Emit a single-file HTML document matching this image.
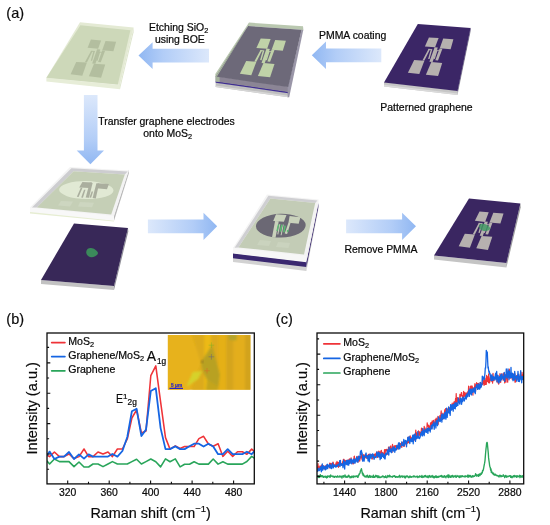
<!DOCTYPE html><html><head><meta charset="utf-8"><title>Figure</title><style>html,body{margin:0;padding:0;background:#fff}svg{display:block}</style></head><body>
<svg width="550" height="525" viewBox="0 0 550 525" font-family="Liberation Sans, sans-serif">
<defs>
<linearGradient id="gL" x1="0" y1="0" x2="1" y2="0"><stop offset="0" stop-color="#90b7f2"/><stop offset="0.35" stop-color="#b2cdf7"/><stop offset="1" stop-color="#dce8fb"/></linearGradient>
<linearGradient id="gR" x1="1" y1="0" x2="0" y2="0"><stop offset="0" stop-color="#90b7f2"/><stop offset="0.35" stop-color="#b2cdf7"/><stop offset="1" stop-color="#dce8fb"/></linearGradient>
<linearGradient id="gD" x1="0" y1="1" x2="0" y2="0"><stop offset="0" stop-color="#90b7f2"/><stop offset="0.35" stop-color="#b2cdf7"/><stop offset="1" stop-color="#dce8fb"/></linearGradient>
<filter id="b1" x="-20%" y="-20%" width="140%" height="140%"><feGaussianBlur stdDeviation="1.2"/></filter>
<filter id="b2" x="-20%" y="-20%" width="140%" height="140%"><feGaussianBlur stdDeviation="2.5"/></filter>
<clipPath id="cb"><rect x="47" y="333" width="207.3" height="151"/></clipPath>
<clipPath id="cc"><rect x="317" y="333" width="206.7" height="151"/></clipPath>
<clipPath id="ci"><rect x="167.8" y="334.9" width="82.7" height="54.9"/></clipPath>
</defs>
<rect width="550" height="525" fill="#ffffff"/>
<polygon points="138.5,55.6 152.6,42.2 152.6,48.8 209.0,48.8 209.0,62.4 152.6,62.4 152.6,69.0" fill="url(#gL)" />
<polygon points="311.8,55.3 326.0,41.6 326.0,48.4 381.3,48.4 381.3,62.2 326.0,62.2 326.0,69.0" fill="url(#gL)" />
<polygon points="90.4,164.3 76.7,150.5 83.9,150.5 83.9,95.0 97.5,95.0 97.5,150.5 104.0,150.5" fill="url(#gD)" />
<polygon points="217.2,226.3 203.5,212.7 203.5,219.4 147.9,219.4 147.9,233.2 203.5,233.2 203.5,240.0" fill="url(#gR)" />
<polygon points="416.0,226.3 402.1,212.7 402.1,219.4 346.1,219.4 346.1,233.2 402.1,233.2 402.1,240.0" fill="url(#gR)" />
<polygon points="46.4,77.7 120.0,85.0 120.0,89.2 46.4,81.4" fill="#e7edd8" />
<polygon points="133.6,27.4 133.6,32.3 120.0,89.2 120.0,85.0" fill="#dfe6cf" />
<polygon points="80.0,22.3 133.6,27.4 120.0,85.0 46.4,77.7" fill="#e4ead4" />
<polygon points="80.4,25.2 130.4,30.3 117.8,84.6 46.4,77.7" fill="#cdd8b9" />
<polygon points="90.9,39.6 101.1,40.4 98.1,48.8 87.6,47.8" fill="#b3be9f" />
<polygon points="105.5,41.0 116.1,41.7 113.4,51.3 102.2,50.3" fill="#b3be9f" />
<polygon points="76.2,62.0 86.9,62.5 82.3,75.8 70.6,74.3" fill="#b3be9f" />
<polygon points="94.0,63.8 105.2,64.6 101.1,77.8 88.9,76.3" fill="#b3be9f" />
<polygon points="97.1,49.3 100.3,49.6 95.4,63.8 92.2,63.6" fill="#b3be9f" />
<polygon points="102.2,50.5 105.1,50.8 100.8,62.3 98.1,62.1" fill="#b3be9f" />
<polygon points="91.0,51.0 92.6,51.1 87.0,62.3 85.0,62.1" fill="#b3be9f" />
<polygon points="93.3,51.5 94.8,51.6 92.1,60.8 90.8,60.7" fill="#b3be9f" />
<polygon points="91.0,50.7 94.8,51.1 94.8,52.0 90.8,51.6" fill="#b3be9f" />
<polygon points="98.7,52.0 100.2,52.1 97.5,60.8 96.2,60.7" fill="#b3be9f" />
<polygon points="98.7,51.6 102.4,51.9 102.2,52.7 98.5,52.4" fill="#b3be9f" />
<polygon points="215.6,82.2 288.2,92.7 288.2,97.3 215.6,87.0" fill="#bfbfbf" />
<polygon points="215.6,85.4 288.2,95.7 288.2,97.3 215.6,87.0" fill="#d6d6d6" />
<polygon points="215.6,81.0 288.2,91.5 288.2,93.2 215.6,82.7" fill="#3f2e92" />
<polygon points="215.6,76.0 288.2,86.5 288.2,91.9 215.6,81.4" fill="#8b8595" />
<polygon points="215.6,76.6 219.6,77.2 219.6,82.0 215.6,81.4" fill="#a3b19c" />
<polygon points="303.0,26.3 303.2,30.3 289.2,97.3 287.7,97.3 287.7,87.1 301.6,29.7" fill="#9a96a8" />
<polygon points="303.0,26.3 303.2,29.9 301.6,30.2 301.6,29.7" fill="#b4c2aa" />
<polygon points="249.0,22.6 303.0,26.3 302.6,30.1 301.6,29.7 248.0,26.0 216.9,76.8 215.3,76.6 215.3,74.1" fill="#bac8b0" />
<polygon points="248.0,26.0 301.6,29.7 288.2,87.1 215.6,76.6" fill="#6d6979" />
<polygon points="249.0,22.6 248.6,25.2 215.3,76.9 216.8,76.8 248.0,26.0" fill="#a9b7a0" />
<polygon points="260.7,38.6 270.6,39.1 267.1,48.8 256.4,48.0" fill="#c0d2a8" />
<polygon points="275.2,39.9 285.9,40.7 282.8,50.8 271.6,49.8" fill="#c0d2a8" />
<polygon points="246.2,61.0 256.4,61.7 251.3,75.3 239.9,73.8" fill="#c0d2a8" />
<polygon points="263.5,63.1 274.5,64.1 270.1,77.3 257.9,76.0" fill="#c0d2a8" />
<polygon points="266.5,48.6 269.8,48.9 264.7,63.3 261.5,63.1" fill="#c0d2a8" />
<polygon points="271.6,49.8 274.5,50.1 270.1,61.7 267.4,61.5" fill="#c0d2a8" />
<polygon points="260.4,50.3 262.1,50.4 256.4,61.7 254.3,61.5" fill="#c0d2a8" />
<polygon points="262.8,50.8 264.2,50.9 261.5,60.2 260.1,60.1" fill="#c0d2a8" />
<polygon points="260.4,50.0 264.3,50.4 264.2,51.3 260.2,50.9" fill="#c0d2a8" />
<polygon points="268.2,51.3 269.6,51.5 266.9,60.2 265.5,60.1" fill="#c0d2a8" />
<polygon points="268.2,50.9 271.8,51.2 271.6,52.1 268.0,51.8" fill="#c0d2a8" />
<polygon points="384.0,82.0 457.5,90.4 457.5,95.1 384.0,86.4" fill="#c6c6c6" />
<polygon points="384.0,84.8 457.5,93.4 457.5,95.1 384.0,86.4" fill="#dadada" />
<polygon points="470.5,27.5 457.5,90.4 457.5,95.1 470.5,32.1" fill="#9c9ca2" />
<polygon points="470.5,27.5 457.5,90.4 457.5,92.2 470.5,29.7" fill="#5a4a86" />
<polygon points="417.8,24.1 470.5,28.1 457.5,91.0 384.0,82.6" fill="#3b2666" />
<polygon points="428.9,37.6 438.6,38.1 435.1,47.3 424.9,46.5" fill="#b6b1af" />
<polygon points="443.2,38.6 453.4,39.3 450.6,49.3 439.8,48.3" fill="#b6b1af" />
<polygon points="414.2,60.0 424.4,60.7 419.3,74.0 407.9,72.7" fill="#b6b1af" />
<polygon points="431.3,62.0 442.2,62.9 438.1,76.0 425.9,74.8" fill="#b6b1af" />
<polygon points="434.6,47.3 437.8,47.6 432.6,62.0 429.4,61.8" fill="#b6b1af" />
<polygon points="439.6,48.5 442.4,48.8 438.0,60.4 435.3,60.3" fill="#b6b1af" />
<polygon points="428.5,49.1 430.1,49.2 424.4,60.5 422.4,60.4" fill="#b6b1af" />
<polygon points="430.8,49.6 432.2,49.7 429.5,59.0 428.1,58.9" fill="#b6b1af" />
<polygon points="428.5,48.8 432.3,49.2 432.2,50.1 428.3,49.7" fill="#b6b1af" />
<polygon points="436.2,50.1 437.6,50.2 434.8,58.9 433.5,58.8" fill="#b6b1af" />
<polygon points="436.2,49.7 439.8,49.9 439.6,50.8 435.9,50.5" fill="#b6b1af" />
<polygon points="30.0,211.0 114.0,219.8 114.0,221.6 30.0,213.4" fill="#e6edd2" />
<polygon points="30.0,207.0 114.0,215.4 114.0,220.7 30.0,212.1" fill="#f8f8f8" />
<polygon points="128.8,169.8 114.0,215.4 114.0,220.7 128.8,173.8" fill="#b9b9b9" />
<polygon points="70.0,167.0 128.8,170.4 114.0,216.0 30.0,207.6" fill="#f3f3f3" />
<polygon points="71.4,168.2 127.6,171.6 124.8,174.4 73.6,171.2 36.8,207.4 32.0,207.6" fill="#cdcdd0" />
<polygon points="73.6,171.2 124.8,174.4 111.2,214.4 36.8,207.4" fill="#c5cfb6" />
<ellipse cx="86.3" cy="190.1" rx="27.2" ry="9" fill="#e1e9d4" transform="rotate(1 86.3 190.1)"/>
<polygon points="82.4,182.0 92.1,182.6 89.5,188.1 79.2,187.4" fill="#aaae9e" />
<polygon points="97.8,183.2 108.9,184.1 107.0,189.3 96.1,188.3" fill="#aaae9e" />
<polygon points="89.8,182.6 92.6,182.9 89.0,197.8 85.7,197.4" fill="#aaae9e" />
<polygon points="96.4,183.3 99.1,183.6 95.8,198.5 92.6,198.1" fill="#aaae9e" />
<polygon points="80.8,187.7 82.4,188.0 78.6,197.1 76.9,196.8" fill="#aaae9e" />
<polygon points="84.0,189.7 85.5,189.8 82.9,197.7 81.2,197.4" fill="#aaae9e" />
<polygon points="91.6,191.5 93.1,191.6 91.1,197.7 89.5,197.5" fill="#aaae9e" />
<polygon points="61.0,201.0 73.0,201.6 70.0,206.4 58.0,205.6" fill="#cdd6c0" />
<polygon points="80.0,202.0 94.0,202.8 92.0,207.2 78.0,206.4" fill="#cdd6c0" />
<polygon points="41.0,280.0 114.0,286.0 114.0,290.0 41.0,284.0" fill="#c2c2c2" />
<polygon points="128.0,228.0 128.3,231.5 114.0,290.0 114.0,286.0" fill="#8d8d95" />
<polygon points="74.0,223.4 128.0,228.0 114.0,286.0 41.0,280.0" fill="#382858" />
<path d="M86.2 252 C86.2 249.5 88.5 247.8 91 248 C94 248.3 97.2 250.5 98 253 C97.5 255.5 94.5 257.2 91.5 257.2 C88.5 257.2 86.2 255 86.2 252Z" fill="#3b8a5b"/>
<polygon points="233.0,257.0 306.4,266.0 306.4,271.0 233.0,262.0" fill="#d2d2d2" />
<polygon points="233.0,253.0 306.4,261.6 306.4,267.0 233.0,258.2" fill="#3a2870" />
<polygon points="233.0,247.3 306.4,255.3 306.4,262.2 233.0,253.6" fill="#f7f7f7" />
<polygon points="318.4,205.4 306.4,265.0 306.4,271.0 318.4,208.9" fill="#c9c9c9" />
<polygon points="318.4,203.0 306.4,261.6 306.4,267.0 318.4,206.9" fill="#3a2870" />
<polygon points="318.4,198.7 306.4,255.3 306.4,262.2 318.4,203.6" fill="#f0f0f0" />
<polygon points="267.0,194.6 318.4,199.4 306.4,256.0 233.0,248.0" fill="#f3f3f3" />
<polygon points="268.4,195.8 317.4,200.4 315.2,203.0 270.4,198.6 238.4,247.4 234.6,247.8" fill="#cfcfd2" />
<polygon points="270.4,198.6 315.2,203.0 304.0,254.6 238.4,247.4" fill="#c3ccb6" />
<ellipse cx="280.8" cy="225.7" rx="24.9" ry="11.9" fill="#6b6874" transform="rotate(-1.5 280.8 225.7)"/>
<polygon points="276.0,214.2 286.5,215.0 283.9,221.7 273.2,220.9" fill="#c9d2bb" />
<polygon points="289.6,216.0 300.4,217.3 298.7,223.7 288.5,222.7" fill="#c9d2bb" />
<polygon points="275.1,220.9 278.8,221.3 275.5,237.7 272.0,237.2" fill="#c9d2bb" />
<polygon points="288.5,222.5 290.6,222.8 287.1,234.0 284.7,233.6" fill="#c9d2bb" />
<polygon points="279.3,224.1 280.3,224.3 278.3,234.4 277.3,234.3" fill="#c9d2bb" />
<polygon points="282.8,224.4 283.7,224.5 281.6,235.3 280.6,235.2" fill="#c9d2bb" />
<polygon points="277.9,224.4 279.3,224.4 277.7,231.1 276.3,231.0" fill="#5cba72" />
<polygon points="281.1,224.6 282.7,224.7 281.0,231.8 279.5,231.7" fill="#5cba72" />
<polygon points="284.3,225.5 285.9,225.7 284.5,232.4 283.0,232.2" fill="#5cba72" />
<polygon points="287.1,229.8 288.9,230.5 288.0,232.2 286.7,231.6" fill="#5cba72" />
<polygon points="260.0,240.0 271.0,241.0 269.0,246.0 257.0,245.0" fill="#cad3be" />
<polygon points="278.0,242.0 290.0,243.0 288.4,248.0 276.0,247.0" fill="#cad3be" />
<polygon points="434.0,255.4 506.4,263.0 506.4,267.4 434.0,259.4" fill="#c4c4c4" />
<polygon points="520.4,203.4 520.7,207.4 506.4,267.4 506.4,263.0" fill="#9a9a9a" />
<polygon points="469.0,198.6 520.4,203.4 506.4,263.0 434.0,255.4" fill="#3a2661" />
<polygon points="479.5,211.4 488.7,212.2 485.1,221.9 474.9,220.8" fill="#b6b1af" />
<polygon points="493.3,212.7 503.5,213.4 500.4,223.6 489.5,222.4" fill="#b6b1af" />
<polygon points="464.8,233.8 474.9,234.6 469.9,247.8 458.7,246.3" fill="#b6b1af" />
<polygon points="481.6,236.1 492.3,236.8 487.9,249.9 476.3,248.3" fill="#b6b1af" />
<polygon points="484.8,221.4 487.9,221.7 482.8,235.9 479.7,235.8" fill="#b6b1af" />
<polygon points="489.6,222.6 492.4,222.9 488.1,234.4 485.4,234.2" fill="#b6b1af" />
<polygon points="478.8,223.1 480.4,223.2 474.8,234.4 472.8,234.2" fill="#b6b1af" />
<polygon points="481.1,223.6 482.5,223.7 479.7,232.9 478.4,232.8" fill="#b6b1af" />
<polygon points="478.8,222.8 482.6,223.2 482.5,224.1 478.6,223.7" fill="#b6b1af" />
<polygon points="486.3,224.1 487.7,224.2 484.9,232.9 483.6,232.8" fill="#b6b1af" />
<polygon points="486.3,223.7 489.8,224.0 489.6,224.8 486.1,224.5" fill="#b6b1af" />
<path d="M479.0 225.9 C480.0 222.4 487.7 223.4 490.7 228.7 C486.7 232.5 479.5 231.5 479.0 225.9 Z" fill="#3f9a63" opacity="0.82"/>
<text x="6.3" y="18.3" font-size="14.50" text-anchor="start" fill="#0a0a0a" stroke="#0a0a0a" stroke-width="0.18" >(a)</text>
<text x="149.0" y="30.7" font-size="10.45" text-anchor="start" fill="#0a0a0a" stroke="#0a0a0a" stroke-width="0.22" >Etching SiO<tspan font-size="7.3" dy="2.2">2</tspan></text>
<text x="154.9" y="43.2" font-size="10.45" text-anchor="start" fill="#0a0a0a" stroke="#0a0a0a" stroke-width="0.22" >using BOE</text>
<text x="319.0" y="38.7" font-size="10.45" text-anchor="start" fill="#0a0a0a" stroke="#0a0a0a" stroke-width="0.22" >PMMA coating</text>
<text x="380.3" y="111.4" font-size="10.45" text-anchor="start" fill="#0a0a0a" stroke="#0a0a0a" stroke-width="0.22" >Patterned graphene</text>
<text x="98.2" y="125.1" font-size="10.45" text-anchor="start" fill="#0a0a0a" stroke="#0a0a0a" stroke-width="0.22" >Transfer graphene electrodes</text>
<text x="143.3" y="136.8" font-size="10.45" text-anchor="start" fill="#0a0a0a" stroke="#0a0a0a" stroke-width="0.22" >onto MoS<tspan font-size="7.3" dy="2.2">2</tspan></text>
<text x="344.4" y="252.8" font-size="10.45" text-anchor="start" fill="#0a0a0a" stroke="#0a0a0a" stroke-width="0.22" >Remove PMMA</text>
<text x="6.3" y="323.5" font-size="14.50" text-anchor="start" fill="#0a0a0a" stroke="#0a0a0a" stroke-width="0.18" >(b)</text>
<text x="275.8" y="323.5" font-size="14.50" text-anchor="start" fill="#0a0a0a" stroke="#0a0a0a" stroke-width="0.18" >(c)</text><g clip-path="url(#ci)">
<rect x="167.8" y="334.9" width="82.7" height="54.9" fill="#e2ad1a"/>
<g filter="url(#b1)">
<polygon points="166.0,333.0 191.0,333.0 201.2,362.7 189.5,391.2 166.0,391.2" fill="#e7b21b"/>
<polygon points="191.8,333.0 205.1,333.0 205.1,391.2 191.0,391.2 201.2,364.3" fill="#dcaa1c"/>
<polygon points="204.3,333.0 211.0,333.0 211.0,391.2 204.3,391.2" fill="#ecba19"/>
<polygon points="211.3,333.0 218.4,333.0 218.4,391.2 211.3,391.2" fill="#ddaa1b"/>
<polygon points="218.4,333.0 226.2,333.0 226.2,391.2 218.4,391.2" fill="#e5b019"/>
<polygon points="226.2,333.0 233.6,333.0 233.6,391.2 226.2,391.2" fill="#d5a51e"/>
<polygon points="233.6,333.0 245.0,333.0 245.0,391.2 233.6,391.2" fill="#e3ae1a"/>
<polygon points="245.0,333.0 252.0,333.0 252.0,391.2 245.0,391.2" fill="#d2a31f"/>
<polygon points="227.8,334.6 237.1,334.6 236.4,340.5 229.3,340.0" fill="#b5a42a"/>
<polygon points="212.1,344.7 219.9,374.4 218.4,386.9 207.0,379.9 203.2,372.1 200.7,362.7" fill="#b8a122"/>
<polygon points="207.0,379.9 218.4,386.9 217.6,391.2 205.9,391.2" fill="#c4a51d"/>
<polygon points="202.3,371.0 192.9,372.1 186.3,386.9 198.1,379.1" fill="#d6d22a"/>
</g>
<circle cx="202.3" cy="361.6" r="1.2" fill="#80601c" filter="url(#b1)" opacity="0.8"/>
<path d="M208.6 345.2h5.6M211.4 342.4v5.6" stroke="#62b02a" stroke-width="0.5" opacity="0.75"/>
<path d="M208.6 356.8h5.6M211.4 354.0v5.6" stroke="#4f4a9c" stroke-width="0.5" opacity="0.75"/>
<path d="M204.2 370.8h5.6M207.0 368.0v5.6" stroke="#e4522a" stroke-width="0.5" opacity="0.75"/>
<path d="M169.4 388.4h13.6" stroke="#2a22c8" stroke-width="1.1"/>
<text x="176.6" y="386.9" font-size="4.8" font-weight="bold" text-anchor="middle" fill="#2a22c8" stroke="#2a22c8" stroke-width="0.15">5 μm</text>
</g>
<polyline points="47.0,461.0 49.6,464.0 54.4,459.0 59.4,461.6 64.0,461.6 69.0,461.6 74.0,466.6 79.0,462.0 84.0,467.0 88.6,467.0 93.0,464.0 98.0,464.0 103.0,466.6 108.0,464.0 112.4,461.6 117.4,464.0 122.4,464.0 127.3,464.0 131.9,461.6 136.6,459.2 141.4,464.0 146.0,461.6 150.8,459.0 155.8,461.7 160.6,466.9 165.5,458.9 170.0,461.7 175.3,458.9 180.1,466.9 184.6,464.2 189.5,464.2 194.1,461.7 198.9,464.1 203.6,464.1 208.4,464.1 213.2,459.0 218.1,464.1 222.9,461.7 227.7,464.1 232.7,464.1 237.5,464.1 242.3,464.1 246.9,461.5 251.7,456.4 254.3,458.1" fill="none" stroke="#29a55a" stroke-width="1.60" stroke-linejoin="round" stroke-linecap="round" clip-path="url(#cb)" />
<polyline points="47.0,455.0 49.6,456.6 54.4,452.0 59.4,456.6 64.0,456.6 69.0,454.0 74.0,458.6 79.0,456.6 84.0,449.0 88.6,456.6 93.0,456.6 98.0,452.0 103.0,454.0 108.0,452.0 112.4,456.6 117.4,449.0 122.4,449.0 127.3,439.0 131.9,418.0 136.6,409.8 141.4,433.0 146.0,431.0 150.8,375.7 155.8,365.9 160.6,401.9 165.5,437.6 170.0,449.1 175.3,445.9 180.1,448.5 184.6,446.5 189.5,446.5 194.1,446.6 198.9,438.6 203.6,436.3 208.4,444.0 213.2,446.2 218.1,443.7 222.9,456.4 227.7,451.3 232.7,456.4 237.5,451.7 242.3,451.7 246.9,454.2 251.7,449.1 254.3,451.3" fill="none" stroke="#ef3338" stroke-width="1.55" stroke-linejoin="round" stroke-linecap="round" clip-path="url(#cb)" />
<polyline points="47.0,455.6 49.6,451.6 54.4,459.0 59.4,456.6 64.0,456.6 69.0,452.0 74.0,459.0 79.0,454.4 84.0,458.6 88.6,454.4 93.0,456.6 98.0,456.6 103.0,456.6 108.0,456.6 112.4,454.0 117.4,456.6 122.4,451.0 127.3,437.0 131.9,411.2 136.6,408.8 141.4,436.0 146.0,429.6 150.8,391.0 155.8,388.3 160.6,428.1 165.5,449.1 170.0,449.1 175.3,446.4 180.1,449.1 184.6,449.1 189.5,446.3 194.1,443.7 198.9,443.7 203.6,446.6 208.4,443.7 213.2,446.6 218.1,454.2 222.9,454.2 227.7,449.1 232.7,454.2 237.5,454.2 242.3,454.2 246.9,451.7 251.7,454.2 254.3,451.3" fill="none" stroke="#1565e3" stroke-width="1.80" stroke-linejoin="round" stroke-linecap="round" clip-path="url(#cb)" />
<rect x="47.0" y="333.0" width="207.3" height="150.9" fill="none" stroke="#0c0c0c" stroke-width="1.3"/>
<path d="M67.7 483.9v-3.3M88.5 483.9v-2.1M109.2 483.9v-3.3M129.9 483.9v-2.1M150.6 483.9v-3.3M171.4 483.9v-2.1M192.1 483.9v-3.3M212.8 483.9v-2.1M233.6 483.9v-3.3M47.0 347.4h2.1M47.0 362.9h3.3M47.0 378.0h2.1M47.0 393.2h3.3M47.0 408.4h2.1M47.0 423.6h3.3M47.0 438.8h2.1M47.0 454.0h3.3M47.0 469.2h2.1" stroke="#0c0c0c" stroke-width="1.1" fill="none"/>
<text x="67.7" y="496.3" font-size="10.40" text-anchor="middle" fill="#0a0a0a" stroke="#0a0a0a" stroke-width="0.22" >320</text>
<text x="109.2" y="496.3" font-size="10.40" text-anchor="middle" fill="#0a0a0a" stroke="#0a0a0a" stroke-width="0.22" >360</text>
<text x="150.6" y="496.3" font-size="10.40" text-anchor="middle" fill="#0a0a0a" stroke="#0a0a0a" stroke-width="0.22" >400</text>
<text x="192.1" y="496.3" font-size="10.40" text-anchor="middle" fill="#0a0a0a" stroke="#0a0a0a" stroke-width="0.22" >440</text>
<text x="233.6" y="496.3" font-size="10.40" text-anchor="middle" fill="#0a0a0a" stroke="#0a0a0a" stroke-width="0.22" >480</text>
<path d="M51.7 342.6H64.9" stroke="#ef3338" stroke-width="1.7" stroke-linecap="round"/>
<path d="M51.7 356.6H64.9" stroke="#1565e3" stroke-width="1.7" stroke-linecap="round"/>
<path d="M51.7 370.8H64.9" stroke="#29a55a" stroke-width="1.7" stroke-linecap="round"/>
<text x="68.2" y="345.0" font-size="10.60" text-anchor="start" fill="#0a0a0a" stroke="#0a0a0a" stroke-width="0.22" >MoS<tspan font-size="7.3" dy="2">2</tspan></text>
<text x="68.2" y="359.4" font-size="10.60" text-anchor="start" fill="#0a0a0a" stroke="#0a0a0a" stroke-width="0.22" >Graphene/MoS<tspan font-size="7.3" dy="2">2</tspan></text>
<text x="68.2" y="373.0" font-size="10.60" text-anchor="start" fill="#0a0a0a" stroke="#0a0a0a" stroke-width="0.22" >Graphene</text>
<text x="146.7" y="361.0" font-size="13.90" text-anchor="start" fill="#0a0a0a" stroke="#0a0a0a" stroke-width="0.18" >A</text>
<text x="156.9" y="364.1" font-size="8.30" text-anchor="start" fill="#0a0a0a" stroke="#0a0a0a" stroke-width="0.22" >1g</text>
<text transform="translate(116.1 402.7) scale(0.8 1)" font-size="13.2" fill="#0a0a0a" stroke="#0a0a0a" stroke-width="0.18">E</text>
<text x="122.9" y="398.6" font-size="8.00" text-anchor="start" fill="#0a0a0a" stroke="#0a0a0a" stroke-width="0.22" >1</text>
<text x="127.6" y="405.0" font-size="8.30" text-anchor="start" fill="#0a0a0a" stroke="#0a0a0a" stroke-width="0.22" >2g</text>
<text x="150.6" y="518.4" font-size="14.40" text-anchor="middle" fill="#0a0a0a" stroke="#0a0a0a" stroke-width="0.18" >Raman shift (cm<tspan font-size="9.5" dy="-6.6">−1</tspan><tspan dy="6.6">)</tspan></text>
<text transform="translate(36.8 408.3) rotate(-90)" font-size="14.6" text-anchor="middle" fill="#0a0a0a" stroke="#0a0a0a" stroke-width="0.18">Intensity (a.u.)</text>
<polyline points="317.0,475.4 317.3,476.1 317.7,476.5 318.0,477.3 318.3,476.7 318.7,475.8 319.0,477.5 319.3,476.8 319.7,477.3 320.0,476.0 320.3,474.6 320.7,476.1 321.0,475.9 321.3,476.7 321.7,475.6 322.0,476.0 322.3,475.7 322.7,476.7 323.0,476.0 323.3,477.4 323.7,477.1 324.0,477.1 324.3,476.4 324.7,476.7 325.0,477.1 325.3,476.1 325.7,477.3 326.0,476.5 326.3,477.4 326.7,478.0 327.0,477.5 327.4,475.9 327.7,477.3 328.0,476.4 328.4,476.3 328.7,476.4 329.0,475.9 329.4,476.7 329.7,476.1 330.0,477.3 330.4,476.8 330.7,475.0 331.0,476.0 331.4,476.0 331.7,476.2 332.0,476.2 332.4,476.7 332.7,476.5 333.0,475.9 333.4,476.8 333.7,477.1 334.0,476.6 334.4,477.3 334.7,476.8 335.0,476.2 335.4,476.3 335.7,476.6 336.0,476.9 336.4,476.7 336.7,477.2 337.0,477.3 337.4,476.0 337.7,475.9 338.0,476.5 338.4,476.8 338.7,477.1 339.0,477.0 339.4,476.9 339.7,476.0 340.0,476.8 340.4,476.2 340.7,476.8 341.0,477.1 341.4,476.2 341.7,476.4 342.0,478.1 342.4,476.1 342.7,476.3 343.0,475.9 343.4,475.7 343.7,477.2 344.0,476.1 344.4,476.2 344.7,476.1 345.0,474.9 345.4,477.0 345.7,476.2 346.1,476.5 346.4,477.4 346.7,476.5 347.1,476.6 347.4,476.6 347.7,477.3 348.1,475.7 348.4,476.2 348.7,475.2 349.1,476.5 349.4,476.9 349.7,476.3 350.1,477.7 350.4,477.1 350.7,477.7 351.1,476.6 351.4,477.6 351.7,476.2 352.1,476.8 352.4,476.6 352.7,476.2 353.1,477.5 353.4,477.3 353.7,476.0 354.1,476.9 354.4,476.5 354.7,476.5 355.1,476.8 355.4,476.1 355.7,476.5 356.1,476.5 356.4,475.9 356.7,475.9 357.1,476.7 357.4,476.1 357.7,477.4 358.1,477.1 358.4,475.2 358.7,475.6 359.1,473.9 359.4,474.3 359.7,473.6 360.1,472.8 360.4,470.8 360.7,470.8 361.1,469.5 361.4,468.7 361.7,470.1 362.1,472.2 362.4,473.9 362.7,473.0 363.1,475.5 363.4,474.0 363.7,474.8 364.1,475.3 364.4,476.7 364.8,476.3 365.1,476.4 365.4,477.0 365.8,476.3 366.1,475.9 366.4,477.1 366.8,476.2 367.1,475.6 367.4,475.3 367.8,476.5 368.1,477.5 368.4,476.9 368.8,476.5 369.1,477.2 369.4,475.5 369.8,476.7 370.1,476.1 370.4,477.3 370.8,476.0 371.1,477.0 371.4,476.6 371.8,476.5 372.1,476.9 372.4,476.4 372.8,477.4 373.1,476.4 373.4,475.2 373.8,477.4 374.1,477.3 374.4,476.8 374.8,477.4 375.1,477.0 375.4,476.0 375.8,475.3 376.1,475.9 376.4,476.4 376.8,476.9 377.1,475.7 377.4,476.0 377.8,477.5 378.1,476.1 378.4,476.1 378.8,476.0 379.1,477.5 379.4,477.0 379.8,477.1 380.1,477.6 380.4,477.1 380.8,477.4 381.1,476.8 381.4,477.1 381.8,476.9 382.1,477.0 382.4,475.9 382.8,476.4 383.1,476.3 383.5,476.2 383.8,476.5 384.1,477.7 384.5,477.1 384.8,476.6 385.1,476.8 385.5,477.4 385.8,475.8 386.1,476.8 386.5,477.6 386.8,477.7 387.1,477.1 387.5,476.9 387.8,475.5 388.1,476.1 388.5,476.5 388.8,476.8 389.1,476.8 389.5,475.2 389.8,476.2 390.1,476.7 390.5,476.1 390.8,476.4 391.1,476.9 391.5,476.7 391.8,476.7 392.1,477.0 392.5,477.2 392.8,476.4 393.1,475.9 393.5,476.1 393.8,476.3 394.1,476.5 394.5,475.7 394.8,476.1 395.1,476.4 395.5,477.4 395.8,476.9 396.1,476.5 396.5,477.1 396.8,476.7 397.1,476.7 397.5,477.2 397.8,476.8 398.1,476.7 398.5,477.0 398.8,476.2 399.1,476.6 399.5,475.3 399.8,476.3 400.1,477.5 400.5,476.4 400.8,476.6 401.1,476.3 401.5,476.0 401.8,476.9 402.2,476.6 402.5,477.2 402.8,476.0 403.2,476.6 403.5,476.4 403.8,476.2 404.2,477.2 404.5,476.1 404.8,476.1 405.2,478.1 405.5,476.5 405.8,476.5 406.2,476.9 406.5,476.0 406.8,476.8 407.2,475.9 407.5,476.3 407.8,476.2 408.2,477.4 408.5,477.0 408.8,477.7 409.2,477.6 409.5,476.2 409.8,476.9 410.2,476.3 410.5,476.2 410.8,477.3 411.2,477.4 411.5,476.7 411.8,476.8 412.2,476.8 412.5,476.8 412.8,476.8 413.2,476.0 413.5,476.9 413.8,476.2 414.2,475.9 414.5,476.5 414.8,476.7 415.2,477.1 415.5,476.8 415.8,476.8 416.2,476.2 416.5,476.8 416.8,476.7 417.2,476.7 417.5,476.1 417.8,477.6 418.2,477.0 418.5,477.0 418.8,476.6 419.2,476.4 419.5,477.1 419.8,475.8 420.2,476.3 420.5,476.4 420.9,476.9 421.2,476.4 421.5,477.4 421.9,475.5 422.2,477.5 422.5,476.8 422.9,477.1 423.2,476.3 423.5,477.2 423.9,476.4 424.2,476.7 424.5,475.7 424.9,476.9 425.2,476.6 425.5,475.4 425.9,476.5 426.2,476.4 426.5,477.1 426.9,476.2 427.2,476.7 427.5,477.3 427.9,476.0 428.2,477.7 428.5,476.7 428.9,476.4 429.2,475.7 429.5,475.5 429.9,477.1 430.2,476.3 430.5,476.2 430.9,477.2 431.2,477.0 431.5,476.6 431.9,475.7 432.2,475.4 432.5,477.1 432.9,476.5 433.2,476.4 433.5,477.7 433.9,476.3 434.2,476.8 434.5,477.8 434.9,476.9 435.2,476.2 435.5,476.0 435.9,477.3 436.2,475.8 436.5,477.1 436.9,477.5 437.2,476.5 437.5,477.0 437.9,476.6 438.2,477.4 438.5,476.7 438.9,476.1 439.2,476.8 439.6,476.6 439.9,476.2 440.2,476.4 440.6,475.8 440.9,476.0 441.2,476.9 441.6,475.4 441.9,476.7 442.2,476.6 442.6,476.2 442.9,477.4 443.2,477.0 443.6,476.2 443.9,476.7 444.2,477.1 444.6,475.6 444.9,476.7 445.2,476.4 445.6,476.8 445.9,477.8 446.2,476.1 446.6,476.3 446.9,475.8 447.2,476.7 447.6,476.9 447.9,475.0 448.2,477.4 448.6,477.5 448.9,474.9 449.2,475.6 449.6,476.8 449.9,476.6 450.2,477.2 450.6,476.3 450.9,477.3 451.2,475.7 451.6,476.8 451.9,476.3 452.2,476.2 452.6,475.4 452.9,476.3 453.2,477.3 453.6,476.1 453.9,476.4 454.2,476.6 454.6,475.9 454.9,476.7 455.2,476.8 455.6,476.4 455.9,475.4 456.2,477.4 456.6,476.5 456.9,476.5 457.2,476.4 457.6,476.1 457.9,475.5 458.3,476.4 458.6,476.6 458.9,477.1 459.3,477.5 459.6,476.0 459.9,477.4 460.3,476.5 460.6,476.8 460.9,475.8 461.3,476.7 461.6,475.9 461.9,476.8 462.3,475.7 462.6,476.4 462.9,476.2 463.3,476.6 463.6,476.6 463.9,476.5 464.3,476.1 464.6,476.9 464.9,476.7 465.3,475.9 465.6,476.8 465.9,476.0 466.3,476.4 466.6,476.3 466.9,476.3 467.3,476.8 467.6,475.2 467.9,477.1 468.3,475.2 468.6,477.0 468.9,476.6 469.3,475.4 469.6,476.5 469.9,476.0 470.3,475.5 470.6,476.9 470.9,476.9 471.3,476.4 471.6,477.2 471.9,476.2 472.3,475.9 472.6,476.9 472.9,475.6 473.3,476.5 473.6,476.7 473.9,476.1 474.3,476.0 474.6,476.2 474.9,476.0 475.3,475.4 475.6,473.6 475.9,475.4 476.3,474.7 476.6,476.1 477.0,475.2 477.3,475.5 477.6,475.8 478.0,475.8 478.3,474.5 478.6,476.3 479.0,475.4 479.3,475.1 479.6,474.0 480.0,475.5 480.3,474.5 480.6,474.5 481.0,473.3 481.3,474.3 481.6,473.7 482.0,472.2 482.3,472.9 482.6,470.4 483.0,470.8 483.3,469.7 483.6,468.5 484.0,466.2 484.3,464.6 484.6,463.2 485.0,460.6 485.3,456.7 485.6,453.0 486.0,448.9 486.3,446.5 486.6,443.2 487.0,442.4 487.3,442.9 487.6,446.0 488.0,450.1 488.3,453.4 488.6,457.9 489.0,460.9 489.3,462.9 489.6,465.3 490.0,467.1 490.3,467.5 490.6,470.1 491.0,468.9 491.3,472.5 491.6,471.0 492.0,472.4 492.3,472.6 492.6,473.5 493.0,473.1 493.3,474.2 493.6,473.1 494.0,474.8 494.3,474.3 494.6,474.9 495.0,475.4 495.3,474.2 495.7,474.7 496.0,474.7 496.3,475.2 496.7,475.5 497.0,475.9 497.3,475.6 497.7,475.5 498.0,476.0 498.3,476.3 498.7,476.3 499.0,477.1 499.3,475.4 499.7,476.0 500.0,475.1 500.3,475.5 500.7,476.3 501.0,476.8 501.3,475.7 501.7,476.3 502.0,476.1 502.3,476.4 502.7,476.2 503.0,475.8 503.3,474.8 503.7,475.3 504.0,476.4 504.3,476.1 504.7,477.5 505.0,476.3 505.3,476.8 505.7,475.5 506.0,475.4 506.3,476.4 506.7,477.3 507.0,476.5 507.3,476.1 507.7,476.6 508.0,476.7 508.3,476.6 508.7,476.4 509.0,475.7 509.3,475.7 509.7,476.1 510.0,476.3 510.3,475.6 510.7,477.4 511.0,476.8 511.3,476.1 511.7,476.9 512.0,477.9 512.3,476.6 512.7,476.6 513.0,477.0 513.3,475.6 513.7,476.1 514.0,476.0 514.4,476.9 514.7,475.4 515.0,476.6 515.4,476.2 515.7,476.3 516.0,476.1 516.4,477.3 516.7,475.9 517.0,475.7 517.4,476.7 517.7,476.1 518.0,476.8 518.4,476.4 518.7,476.5 519.0,476.5 519.4,475.5 519.7,475.3 520.0,477.7 520.4,475.8 520.7,476.8 521.0,475.8 521.4,476.4 521.7,476.3 522.0,477.4 522.4,476.4 522.7,475.6 523.0,475.6 523.4,476.7 523.7,477.0" fill="none" stroke="#29a55a" stroke-width="1.35" stroke-linejoin="round" stroke-linecap="round" clip-path="url(#cc)" />
<polyline points="317.0,470.7 317.3,467.5 317.7,467.2 318.0,463.7 318.3,467.8 318.7,467.3 319.0,466.9 319.3,468.2 319.7,468.3 320.0,465.9 320.3,466.1 320.7,466.7 321.0,468.4 321.3,468.2 321.7,465.2 322.0,465.4 322.3,468.3 322.7,469.5 323.0,466.9 323.3,465.8 323.7,468.5 324.0,466.2 324.3,467.8 324.7,469.1 325.0,467.5 325.3,466.6 325.7,467.6 326.0,465.3 326.3,466.0 326.7,465.3 327.0,465.8 327.4,465.3 327.7,465.7 328.0,465.3 328.4,466.0 328.7,465.9 329.0,466.2 329.4,467.9 329.7,463.1 330.0,467.6 330.4,465.0 330.7,463.3 331.0,465.0 331.4,465.4 331.7,466.9 332.0,463.3 332.4,465.4 332.7,465.1 333.0,462.1 333.4,462.9 333.7,465.7 334.0,465.8 334.4,466.4 334.7,465.4 335.0,465.1 335.4,464.6 335.7,466.3 336.0,462.8 336.4,463.9 336.7,464.7 337.0,461.4 337.4,466.1 337.7,462.6 338.0,463.7 338.4,467.3 338.7,462.3 339.0,462.7 339.4,466.1 339.7,461.6 340.0,462.6 340.4,464.2 340.7,464.0 341.0,464.1 341.4,463.7 341.7,465.2 342.0,464.6 342.4,463.8 342.7,461.6 343.0,461.5 343.4,459.3 343.7,463.7 344.0,459.3 344.4,463.8 344.7,465.4 345.0,460.4 345.4,460.9 345.7,461.2 346.1,463.3 346.4,460.4 346.7,461.5 347.1,460.8 347.4,461.2 347.7,463.7 348.1,459.8 348.4,461.5 348.7,461.7 349.1,462.7 349.4,458.9 349.7,462.9 350.1,461.7 350.4,462.4 350.7,460.9 351.1,457.8 351.4,459.5 351.7,461.9 352.1,460.5 352.4,460.3 352.7,463.4 353.1,464.0 353.4,460.0 353.7,463.4 354.1,456.4 354.4,456.2 354.7,461.3 355.1,459.2 355.4,460.6 355.7,460.4 356.1,459.3 356.4,460.5 356.7,459.5 357.1,456.4 357.4,459.4 357.7,459.3 358.1,462.1 358.4,456.7 358.7,458.7 359.1,457.7 359.4,458.1 359.7,461.1 360.1,458.6 360.4,456.7 360.7,457.2 361.1,457.8 361.4,454.4 361.7,456.1 362.1,459.8 362.4,458.8 362.7,457.3 363.1,456.6 363.4,457.2 363.7,454.6 364.1,459.1 364.4,458.0 364.8,457.5 365.1,454.9 365.4,455.9 365.8,458.0 366.1,457.5 366.4,456.1 366.8,457.8 367.1,458.5 367.4,455.5 367.8,455.7 368.1,455.0 368.4,454.4 368.8,457.9 369.1,457.3 369.4,456.9 369.8,454.1 370.1,454.2 370.4,456.0 370.8,455.3 371.1,456.2 371.4,454.6 371.8,457.0 372.1,459.1 372.4,458.5 372.8,458.6 373.1,455.6 373.4,457.1 373.8,454.6 374.1,457.0 374.4,454.5 374.8,454.2 375.1,453.8 375.4,456.3 375.8,455.4 376.1,455.2 376.4,452.6 376.8,454.9 377.1,451.9 377.4,457.3 377.8,454.2 378.1,454.7 378.4,454.1 378.8,451.2 379.1,451.6 379.4,454.0 379.8,456.8 380.1,451.8 380.4,452.5 380.8,453.7 381.1,450.5 381.4,450.4 381.8,452.8 382.1,453.4 382.4,452.6 382.8,456.2 383.1,452.9 383.5,453.8 383.8,456.0 384.1,456.1 384.5,449.7 384.8,451.9 385.1,454.7 385.5,449.7 385.8,450.5 386.1,449.6 386.5,449.4 386.8,449.6 387.1,452.0 387.5,454.0 387.8,454.3 388.1,451.3 388.5,447.2 388.8,450.8 389.1,450.1 389.5,451.2 389.8,450.1 390.1,446.7 390.5,450.8 390.8,445.8 391.1,448.3 391.5,450.1 391.8,450.0 392.1,452.2 392.5,444.3 392.8,449.5 393.1,450.0 393.5,447.8 393.8,449.5 394.1,445.9 394.5,449.2 394.8,448.8 395.1,445.6 395.5,446.1 395.8,446.8 396.1,445.7 396.5,448.9 396.8,447.0 397.1,449.1 397.5,448.7 397.8,446.3 398.1,445.6 398.5,443.9 398.8,444.0 399.1,443.8 399.5,446.0 399.8,443.3 400.1,445.1 400.5,445.1 400.8,443.6 401.1,444.0 401.5,447.1 401.8,447.3 402.2,442.2 402.5,443.3 402.8,442.7 403.2,442.7 403.5,446.2 403.8,444.3 404.2,445.3 404.5,446.2 404.8,441.5 405.2,441.8 405.5,442.1 405.8,443.9 406.2,441.4 406.5,442.8 406.8,443.6 407.2,443.4 407.5,441.8 407.8,439.0 408.2,437.2 408.5,442.6 408.8,441.0 409.2,437.9 409.5,438.6 409.8,438.5 410.2,435.8 410.5,439.6 410.8,437.2 411.2,438.0 411.5,440.0 411.8,438.0 412.2,439.2 412.5,438.7 412.8,437.7 413.2,437.5 413.5,441.1 413.8,436.6 414.2,440.2 414.5,434.6 414.8,437.9 415.2,436.5 415.5,434.4 415.8,430.0 416.2,438.9 416.5,432.8 416.8,433.0 417.2,435.1 417.5,434.8 417.8,435.0 418.2,433.7 418.5,430.8 418.8,435.7 419.2,431.6 419.5,433.9 419.8,434.4 420.2,435.5 420.5,432.3 420.9,431.9 421.2,431.8 421.5,428.1 421.9,430.2 422.2,429.5 422.5,429.0 422.9,431.6 423.2,430.4 423.5,434.4 423.9,433.9 424.2,426.3 424.5,430.5 424.9,427.8 425.2,431.0 425.5,429.9 425.9,431.4 426.2,429.8 426.5,430.6 426.9,428.0 427.2,422.8 427.5,425.5 427.9,426.0 428.2,426.6 428.5,425.1 428.9,430.8 429.2,426.5 429.5,429.6 429.9,425.6 430.2,429.9 430.5,423.2 430.9,427.0 431.2,422.3 431.5,426.1 431.9,428.4 432.2,420.8 432.5,422.3 432.9,424.5 433.2,423.3 433.5,420.3 433.9,425.8 434.2,423.0 434.5,425.6 434.9,423.1 435.2,419.4 435.5,420.6 435.9,424.7 436.2,418.0 436.5,419.8 436.9,422.0 437.2,422.7 437.5,421.9 437.9,416.3 438.2,424.3 438.5,418.7 438.9,418.8 439.2,418.5 439.6,417.6 439.9,415.6 440.2,416.8 440.6,420.3 440.9,413.7 441.2,410.9 441.6,417.5 441.9,416.8 442.2,417.4 442.6,419.4 442.9,413.2 443.2,415.1 443.6,415.5 443.9,416.9 444.2,416.1 444.6,411.3 444.9,409.7 445.2,412.0 445.6,408.5 445.9,414.7 446.2,410.7 446.6,410.5 446.9,408.9 447.2,414.4 447.6,411.1 447.9,409.0 448.2,411.2 448.6,409.2 448.9,410.5 449.2,411.9 449.6,407.7 449.9,409.3 450.2,408.9 450.6,410.2 450.9,408.5 451.2,406.8 451.6,404.9 451.9,406.9 452.2,403.2 452.6,407.1 452.9,405.3 453.2,406.2 453.6,403.3 453.9,402.3 454.2,401.7 454.6,406.4 454.9,402.8 455.2,402.5 455.6,398.4 455.9,402.4 456.2,393.6 456.6,405.3 456.9,401.1 457.2,401.4 457.6,397.5 457.9,398.1 458.3,402.1 458.6,399.7 458.9,401.1 459.3,402.9 459.6,401.1 459.9,394.4 460.3,396.4 460.6,395.7 460.9,396.0 461.3,392.8 461.6,392.6 461.9,395.6 462.3,395.7 462.6,398.3 462.9,395.8 463.3,400.0 463.6,391.4 463.9,392.3 464.3,396.2 464.6,394.6 464.9,392.5 465.3,396.7 465.6,397.3 465.9,397.6 466.3,392.9 466.6,393.6 466.9,393.9 467.3,393.2 467.6,395.4 467.9,391.3 468.3,393.2 468.6,386.2 468.9,393.7 469.3,395.7 469.6,391.1 469.9,393.6 470.3,386.3 470.6,389.5 470.9,386.1 471.3,390.7 471.6,391.0 471.9,385.8 472.3,386.9 472.6,387.4 472.9,395.1 473.3,388.2 473.6,388.5 473.9,388.9 474.3,388.5 474.6,386.8 474.9,383.7 475.3,385.2 475.6,391.1 475.9,387.2 476.3,385.3 476.6,382.5 477.0,385.7 477.3,385.7 477.6,383.7 478.0,387.6 478.3,383.4 478.6,384.3 479.0,386.8 479.3,384.9 479.6,387.1 480.0,383.3 480.3,382.5 480.6,384.8 481.0,383.9 481.3,386.4 481.6,384.1 482.0,382.8 482.3,383.9 482.6,384.3 483.0,379.3 483.3,381.9 483.6,381.2 484.0,385.3 484.3,380.5 484.6,384.6 485.0,378.1 485.3,381.3 485.6,384.3 486.0,380.5 486.3,384.3 486.6,375.4 487.0,381.0 487.3,381.3 487.6,380.4 488.0,376.4 488.3,382.3 488.6,373.9 489.0,382.9 489.3,381.0 489.6,382.8 490.0,379.2 490.3,376.7 490.6,378.3 491.0,378.3 491.3,381.2 491.6,378.5 492.0,380.5 492.3,380.5 492.6,383.1 493.0,373.4 493.3,377.7 493.6,380.7 494.0,380.6 494.3,377.0 494.6,377.7 495.0,378.1 495.3,378.6 495.7,376.6 496.0,376.2 496.3,374.8 496.7,376.8 497.0,381.7 497.3,375.0 497.7,380.3 498.0,383.0 498.3,378.0 498.7,384.1 499.0,376.9 499.3,382.0 499.7,377.0 500.0,373.6 500.3,378.0 500.7,382.4 501.0,375.2 501.3,378.2 501.7,373.9 502.0,374.1 502.3,377.9 502.7,376.0 503.0,378.2 503.3,380.2 503.7,373.0 504.0,374.3 504.3,376.4 504.7,383.0 505.0,375.2 505.3,374.7 505.7,377.3 506.0,382.2 506.3,374.2 506.7,375.0 507.0,376.0 507.3,378.1 507.7,382.2 508.0,372.1 508.3,370.8 508.7,376.2 509.0,377.3 509.3,369.1 509.7,373.8 510.0,378.5 510.3,374.1 510.7,377.1 511.0,376.2 511.3,377.6 511.7,377.0 512.0,376.5 512.3,379.5 512.7,374.1 513.0,376.2 513.3,379.2 513.7,374.2 514.0,374.8 514.4,373.7 514.7,373.2 515.0,382.2 515.4,377.6 515.7,381.9 516.0,378.5 516.4,376.6 516.7,375.5 517.0,377.2 517.4,376.4 517.7,379.3 518.0,374.0 518.4,377.2 518.7,378.1 519.0,376.1 519.4,376.1 519.7,378.6 520.0,378.6 520.4,376.7 520.7,377.0 521.0,375.4 521.4,378.8 521.7,376.8 522.0,372.4 522.4,376.3 522.7,379.1 523.0,378.1 523.4,374.6 523.7,379.6" fill="none" stroke="#ef3338" stroke-width="1.20" stroke-linejoin="round" stroke-linecap="round" clip-path="url(#cc)" />
<polyline points="317.0,470.1 317.3,470.0 317.7,471.4 318.0,468.5 318.3,469.9 318.7,468.5 319.0,470.4 319.3,470.6 319.7,469.5 320.0,469.8 320.3,467.3 320.7,469.5 321.0,466.6 321.3,471.8 321.7,470.1 322.0,465.8 322.3,464.0 322.7,470.2 323.0,466.7 323.3,468.8 323.7,465.8 324.0,467.9 324.3,466.7 324.7,468.6 325.0,467.1 325.3,469.9 325.7,466.2 326.0,469.4 326.3,467.3 326.7,468.1 327.0,464.6 327.4,464.3 327.7,468.7 328.0,465.0 328.4,466.3 328.7,466.3 329.0,465.3 329.4,467.0 329.7,464.3 330.0,464.6 330.4,468.0 330.7,465.1 331.0,467.5 331.4,467.3 331.7,468.7 332.0,466.9 332.4,463.1 332.7,464.9 333.0,465.2 333.4,467.9 333.7,466.3 334.0,464.9 334.4,466.4 334.7,465.0 335.0,466.4 335.4,465.7 335.7,467.2 336.0,465.9 336.4,466.9 336.7,465.1 337.0,466.3 337.4,464.8 337.7,466.0 338.0,465.2 338.4,464.6 338.7,464.0 339.0,464.2 339.4,465.4 339.7,460.7 340.0,466.5 340.4,460.4 340.7,464.0 341.0,463.7 341.4,465.4 341.7,464.4 342.0,463.9 342.4,464.0 342.7,465.4 343.0,467.7 343.4,464.3 343.7,460.1 344.0,462.8 344.4,464.1 344.7,469.0 345.0,461.9 345.4,462.5 345.7,464.0 346.1,463.5 346.4,460.7 346.7,464.5 347.1,460.5 347.4,462.2 347.7,464.9 348.1,460.2 348.4,461.8 348.7,465.2 349.1,461.8 349.4,460.4 349.7,461.1 350.1,463.4 350.4,459.2 350.7,460.7 351.1,459.2 351.4,459.6 351.7,463.8 352.1,461.3 352.4,460.6 352.7,462.1 353.1,460.0 353.4,459.0 353.7,463.0 354.1,462.5 354.4,459.4 354.7,462.0 355.1,463.2 355.4,461.4 355.7,461.3 356.1,458.2 356.4,460.0 356.7,456.8 357.1,461.9 357.4,459.5 357.7,462.0 358.1,458.1 358.4,460.8 358.7,456.1 359.1,457.9 359.4,459.1 359.7,458.0 360.1,456.2 360.4,451.7 360.7,454.4 361.1,450.4 361.4,450.6 361.7,452.9 362.1,452.8 362.4,456.1 362.7,461.2 363.1,455.6 363.4,458.2 363.7,456.7 364.1,461.1 364.4,458.3 364.8,456.1 365.1,456.9 365.4,455.4 365.8,453.8 366.1,453.0 366.4,456.6 366.8,455.8 367.1,458.1 367.4,456.3 367.8,458.1 368.1,460.9 368.4,455.4 368.8,455.3 369.1,459.3 369.4,461.8 369.8,455.7 370.1,454.1 370.4,456.7 370.8,456.4 371.1,458.4 371.4,455.0 371.8,456.4 372.1,456.3 372.4,453.8 372.8,453.8 373.1,457.5 373.4,457.6 373.8,455.0 374.1,459.4 374.4,458.1 374.8,457.2 375.1,457.4 375.4,456.8 375.8,457.4 376.1,457.6 376.4,456.1 376.8,451.9 377.1,455.5 377.4,454.1 377.8,453.4 378.1,456.7 378.4,452.1 378.8,457.0 379.1,454.1 379.4,452.9 379.8,453.5 380.1,459.6 380.4,457.9 380.8,454.4 381.1,457.0 381.4,458.3 381.8,453.0 382.1,454.1 382.4,456.3 382.8,455.3 383.1,453.7 383.5,457.4 383.8,455.2 384.1,455.6 384.5,458.6 384.8,454.8 385.1,458.9 385.5,454.2 385.8,453.2 386.1,453.6 386.5,454.9 386.8,454.3 387.1,453.6 387.5,449.8 387.8,450.5 388.1,451.9 388.5,453.7 388.8,455.0 389.1,447.2 389.5,451.5 389.8,450.7 390.1,451.2 390.5,451.7 390.8,449.4 391.1,448.3 391.5,452.7 391.8,452.1 392.1,449.5 392.5,450.0 392.8,448.6 393.1,447.0 393.5,451.0 393.8,448.2 394.1,447.1 394.5,447.9 394.8,452.3 395.1,449.7 395.5,449.1 395.8,448.6 396.1,450.0 396.5,449.6 396.8,445.3 397.1,447.3 397.5,446.2 397.8,447.8 398.1,447.1 398.5,443.0 398.8,449.2 399.1,447.2 399.5,443.0 399.8,448.7 400.1,446.4 400.5,446.9 400.8,445.9 401.1,445.9 401.5,444.4 401.8,441.8 402.2,443.8 402.5,445.3 402.8,444.8 403.2,445.9 403.5,444.2 403.8,439.5 404.2,445.5 404.5,442.1 404.8,440.8 405.2,442.8 405.5,440.4 405.8,443.8 406.2,441.0 406.5,446.8 406.8,442.0 407.2,441.2 407.5,440.8 407.8,437.4 408.2,439.9 408.5,440.0 408.8,440.7 409.2,436.5 409.5,441.1 409.8,443.5 410.2,439.7 410.5,440.3 410.8,441.1 411.2,438.3 411.5,438.9 411.8,441.7 412.2,439.8 412.5,436.6 412.8,435.2 413.2,443.8 413.5,439.6 413.8,435.0 414.2,438.6 414.5,439.5 414.8,438.1 415.2,433.6 415.5,441.4 415.8,438.5 416.2,436.6 416.5,438.3 416.8,436.2 417.2,435.7 417.5,438.2 417.8,431.7 418.2,438.0 418.5,436.5 418.8,437.1 419.2,437.3 419.5,438.5 419.8,438.0 420.2,436.6 420.5,433.6 420.9,435.8 421.2,433.0 421.5,431.7 421.9,434.7 422.2,434.3 422.5,435.9 422.9,428.3 423.2,434.2 423.5,434.2 423.9,432.7 424.2,435.6 424.5,430.1 424.9,432.6 425.2,430.8 425.5,431.4 425.9,429.0 426.2,430.7 426.5,432.3 426.9,430.8 427.2,431.1 427.5,428.3 427.9,433.4 428.2,428.0 428.5,429.4 428.9,430.5 429.2,428.4 429.5,430.4 429.9,428.8 430.2,432.0 430.5,429.1 430.9,428.5 431.2,425.5 431.5,428.1 431.9,429.1 432.2,427.5 432.5,424.1 432.9,424.7 433.2,425.2 433.5,425.5 433.9,422.0 434.2,429.3 434.5,424.4 434.9,424.6 435.2,423.1 435.5,423.7 435.9,428.0 436.2,421.0 436.5,421.7 436.9,420.2 437.2,421.1 437.5,425.7 437.9,420.3 438.2,420.4 438.5,416.9 438.9,420.0 439.2,421.1 439.6,419.1 439.9,419.0 440.2,421.6 440.6,420.6 440.9,418.8 441.2,416.8 441.6,414.8 441.9,422.1 442.2,414.0 442.6,419.0 442.9,416.6 443.2,415.0 443.6,418.5 443.9,414.3 444.2,418.8 444.6,413.0 444.9,416.3 445.2,417.9 445.6,412.1 445.9,419.2 446.2,415.9 446.6,408.1 446.9,416.5 447.2,417.4 447.6,411.8 447.9,411.7 448.2,412.7 448.6,406.8 448.9,411.5 449.2,413.1 449.6,409.1 449.9,412.9 450.2,415.3 450.6,404.7 450.9,404.7 451.2,407.1 451.6,410.1 451.9,409.2 452.2,405.6 452.6,404.8 452.9,405.5 453.2,411.2 453.6,404.3 453.9,404.9 454.2,408.4 454.6,405.1 454.9,403.0 455.2,408.8 455.6,405.7 455.9,402.9 456.2,403.4 456.6,406.4 456.9,402.8 457.2,404.1 457.6,405.4 457.9,405.4 458.3,398.0 458.6,401.1 458.9,401.3 459.3,402.1 459.6,403.5 459.9,404.2 460.3,399.9 460.6,397.9 460.9,400.9 461.3,398.7 461.6,404.3 461.9,400.5 462.3,399.5 462.6,401.6 462.9,397.1 463.3,397.6 463.6,397.8 463.9,399.6 464.3,401.0 464.6,399.4 464.9,399.1 465.3,396.3 465.6,397.5 465.9,395.7 466.3,399.0 466.6,394.1 466.9,395.3 467.3,395.8 467.6,396.9 467.9,392.7 468.3,393.7 468.6,391.9 468.9,390.3 469.3,396.4 469.6,394.4 469.9,389.0 470.3,390.1 470.6,393.9 470.9,390.6 471.3,389.1 471.6,394.9 471.9,390.1 472.3,390.1 472.6,392.3 472.9,388.7 473.3,390.4 473.6,390.5 473.9,391.8 474.3,387.6 474.6,392.2 474.9,389.9 475.3,393.6 475.6,389.1 475.9,386.8 476.3,386.6 476.6,384.7 477.0,387.4 477.3,387.0 477.6,389.3 478.0,386.8 478.3,384.0 478.6,388.8 479.0,384.6 479.3,386.2 479.6,389.1 480.0,388.3 480.3,382.5 480.6,383.8 481.0,387.4 481.3,386.1 481.6,384.4 482.0,384.9 482.3,376.1 482.6,380.6 483.0,376.7 483.3,378.1 483.6,377.9 484.0,379.0 484.3,379.5 484.6,376.5 485.0,372.7 485.3,367.8 485.6,368.3 486.0,360.7 486.3,350.3 486.6,351.9 487.0,353.3 487.3,352.2 487.6,359.9 488.0,368.0 488.3,366.8 488.6,370.2 489.0,372.4 489.3,371.4 489.6,374.0 490.0,373.3 490.3,376.0 490.6,375.0 491.0,380.4 491.3,377.6 491.6,380.5 492.0,374.7 492.3,378.3 492.6,380.1 493.0,380.4 493.3,376.7 493.6,378.2 494.0,378.8 494.3,377.5 494.6,377.2 495.0,379.9 495.3,374.9 495.7,373.1 496.0,376.8 496.3,379.0 496.7,371.5 497.0,381.9 497.3,378.2 497.7,379.6 498.0,375.4 498.3,377.7 498.7,383.0 499.0,383.1 499.3,379.4 499.7,376.7 500.0,377.2 500.3,381.3 500.7,375.3 501.0,374.6 501.3,376.9 501.7,379.9 502.0,374.0 502.3,378.1 502.7,378.1 503.0,377.4 503.3,376.5 503.7,379.6 504.0,378.5 504.3,372.4 504.7,381.4 505.0,377.9 505.3,377.5 505.7,375.4 506.0,375.5 506.3,368.8 506.7,375.6 507.0,378.0 507.3,378.0 507.7,374.1 508.0,369.0 508.3,372.6 508.7,375.0 509.0,379.8 509.3,371.1 509.7,376.0 510.0,377.7 510.3,377.8 510.7,375.6 511.0,367.5 511.3,377.7 511.7,376.3 512.0,377.6 512.3,373.1 512.7,374.5 513.0,380.6 513.3,375.8 513.7,376.1 514.0,374.0 514.4,380.1 514.7,371.3 515.0,374.7 515.4,377.7 515.7,376.3 516.0,379.2 516.4,377.9 516.7,381.1 517.0,376.0 517.4,376.4 517.7,377.7 518.0,371.4 518.4,381.3 518.7,374.2 519.0,380.6 519.4,381.6 519.7,380.3 520.0,377.9 520.4,375.3 520.7,370.7 521.0,379.2 521.4,376.7 521.7,382.8 522.0,376.6 522.4,379.5 522.7,376.3 523.0,379.0 523.4,376.6 523.7,377.2" fill="none" stroke="#1565e3" stroke-width="1.30" stroke-linejoin="round" stroke-linecap="round" clip-path="url(#cc)" />
<rect x="317.0" y="333.0" width="206.7" height="150.9" fill="none" stroke="#0c0c0c" stroke-width="1.3"/>
<path d="M323.9 483.9v-2.1M344.6 483.9v-3.3M365.2 483.9v-2.1M385.9 483.9v-3.3M406.6 483.9v-2.1M427.2 483.9v-3.3M447.9 483.9v-2.1M468.6 483.9v-3.3M489.2 483.9v-2.1M509.9 483.9v-3.3M317.0 338.9h2.1M317.0 354.1h3.3M317.0 369.4h2.1M317.0 384.7h3.3M317.0 400.0h2.1M317.0 415.3h3.3M317.0 430.5h2.1M317.0 445.8h3.3M317.0 461.1h2.1M317.0 476.4h3.3" stroke="#0c0c0c" stroke-width="1.1" fill="none"/>
<text x="344.6" y="496.3" font-size="10.40" text-anchor="middle" fill="#0a0a0a" stroke="#0a0a0a" stroke-width="0.22" >1440</text>
<text x="385.9" y="496.3" font-size="10.40" text-anchor="middle" fill="#0a0a0a" stroke="#0a0a0a" stroke-width="0.22" >1800</text>
<text x="427.2" y="496.3" font-size="10.40" text-anchor="middle" fill="#0a0a0a" stroke="#0a0a0a" stroke-width="0.22" >2160</text>
<text x="468.6" y="496.3" font-size="10.40" text-anchor="middle" fill="#0a0a0a" stroke="#0a0a0a" stroke-width="0.22" >2520</text>
<text x="509.9" y="496.3" font-size="10.40" text-anchor="middle" fill="#0a0a0a" stroke="#0a0a0a" stroke-width="0.22" >2880</text>
<path d="M323.8 343.8H339.9" stroke="#ef3338" stroke-width="1.7" stroke-linecap="round"/>
<path d="M323.8 358.4H339.9" stroke="#1565e3" stroke-width="1.7" stroke-linecap="round"/>
<path d="M323.8 373.0H339.9" stroke="#29a55a" stroke-width="1.7" stroke-linecap="round"/>
<text x="343.2" y="346.0" font-size="10.60" text-anchor="start" fill="#0a0a0a" stroke="#0a0a0a" stroke-width="0.22" >MoS<tspan font-size="7.3" dy="2">2</tspan></text>
<text x="343.2" y="360.6" font-size="10.60" text-anchor="start" fill="#0a0a0a" stroke="#0a0a0a" stroke-width="0.22" >Graphene/MoS<tspan font-size="7.3" dy="2">2</tspan></text>
<text x="343.2" y="375.0" font-size="10.60" text-anchor="start" fill="#0a0a0a" stroke="#0a0a0a" stroke-width="0.22" >Graphene</text>
<text x="420.6" y="518.4" font-size="14.40" text-anchor="middle" fill="#0a0a0a" stroke="#0a0a0a" stroke-width="0.18" >Raman shift (cm<tspan font-size="9.5" dy="-6.6">−1</tspan><tspan dy="6.6">)</tspan></text>
<text transform="translate(306.5 408.3) rotate(-90)" font-size="14.6" text-anchor="middle" fill="#0a0a0a" stroke="#0a0a0a" stroke-width="0.18">Intensity (a.u.)</text>
</svg></body></html>
